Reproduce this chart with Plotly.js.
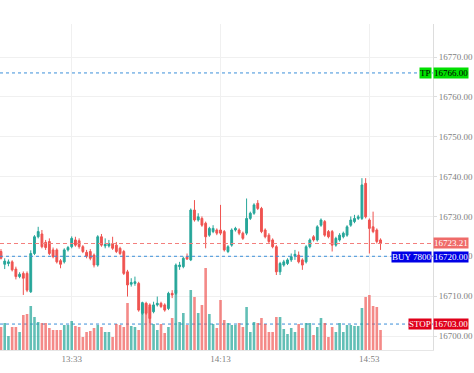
<!DOCTYPE html>
<html><head><meta charset="utf-8">
<script src="https://cdn.plot.ly/plotly-3.0.1.min.js"></script>
<style>html,body{margin:0;padding:0;background:#fff}</style>
</head><body><div id="chart" style="width:474px;height:373px"></div>
<script>
const day = '2024-01-02 ';
const times = ['13:14','13:15','13:16','13:17','13:18','13:19','13:20','13:21','13:22','13:23',
'13:24','13:25','13:26','13:27','13:28','13:29','13:30','13:31','13:32','13:33',
'13:34','13:35','13:36','13:37','13:38','13:39','13:40','13:41','13:42','13:43',
'13:44','13:45','13:46','13:47','13:48','13:49','13:50','13:51','13:52','13:53',
'13:54','13:55','13:56','13:57','13:58','13:59','14:00','14:01','14:02','14:03',
'14:04','14:05','14:06','14:07','14:08','14:09','14:10','14:11','14:12','14:13',
'14:14','14:15','14:16','14:17','14:18','14:19','14:20','14:21','14:22','14:23',
'14:24','14:25','14:26','14:27','14:28','14:29','14:30','14:31','14:32','14:33',
'14:34','14:35','14:36','14:37','14:38','14:39','14:40','14:41','14:42','14:43',
'14:44','14:45','14:46','14:47','14:48','14:49','14:50','14:51','14:52','14:53',
'14:54','14:55','14:56'];
const openP = [16721.2,16718.0,16718.2,16718.6,16716.8,16714.9,16715.7,16715.7,16711.1,16720.7,
16724.9,16725.6,16723.5,16723.7,16721.6,16721.6,16718.9,16718.6,16721.6,16722.4,
16724.1,16723.9,16722.4,16721.0,16721.2,16720.3,16717.8,16724.9,16722.6,16722.6,
16723.2,16722.8,16722.0,16721.2,16716.1,16713.0,16713.2,16713.2,16705.7,16708.2,
16707.8,16706.1,16707.8,16708.2,16707.8,16706.9,16710.7,16710.7,16717.4,16717.4,
16719.9,16719.1,16731.6,16729.1,16729.5,16728.3,16725.3,16726.2,16726.6,16726.6,
16726.2,16721.2,16722.8,16726.6,16726.6,16725.8,16725.8,16729.5,16730.8,16733.3,
16732.0,16726.6,16725.3,16724.1,16722.4,16716.1,16717.8,16718.2,16719.1,16720.1,
16720.3,16719.1,16718.6,16722.4,16724.9,16724.1,16727.8,16728.7,16726.2,16726.2,
16722.8,16724.1,16724.9,16725.3,16727.8,16728.7,16729.5,16729.5,16738.3,16729.1,
16727.4,16726.6,16724.1];
const highP = [16721.8,16719.5,16719.2,16719.0,16717.4,16716.0,16716.2,16716.2,16721.5,16725.3,
16727.4,16726.6,16724.1,16724.5,16722.2,16722.0,16719.3,16722.0,16722.6,16725.0,
16724.9,16724.5,16722.8,16721.6,16721.8,16720.7,16725.3,16725.6,16724.5,16724.1,
16724.9,16723.6,16722.4,16721.6,16716.6,16714.5,16714.9,16713.6,16708.6,16708.6,
16708.2,16708.6,16709.9,16708.6,16708.2,16711.1,16711.5,16718.2,16718.6,16719.9,
16720.7,16732.0,16734.1,16730.8,16730.0,16728.7,16727.4,16727.8,16727.0,16732.9,
16726.6,16722.8,16727.0,16727.4,16727.0,16726.2,16734.5,16731.2,16733.3,16734.1,
16732.4,16727.0,16725.8,16724.5,16722.8,16718.6,16719.1,16719.5,16720.7,16721.6,
16721.2,16719.5,16722.8,16724.5,16725.3,16727.8,16729.5,16729.1,16726.6,16726.6,
16724.9,16725.8,16726.2,16727.8,16730.0,16730.4,16730.4,16739.6,16739.6,16729.5,
16731.2,16727.0,16724.5];
const lowP = [16719.2,16716.8,16717.5,16716.2,16714.2,16714.5,16710.3,16711.0,16710.8,16720.3,
16724.5,16722.0,16721.6,16720.3,16719.5,16718.2,16717.0,16718.2,16721.2,16722.0,
16722.4,16721.9,16720.8,16719.5,16719.0,16717.2,16717.4,16722.4,16722.0,16722.2,
16721.6,16720.8,16720.3,16715.3,16709.9,16712.4,16712.6,16706.1,16705.3,16705.3,
16703.2,16705.7,16707.4,16707.0,16706.1,16706.5,16709.5,16710.3,16716.6,16717.0,
16719.1,16718.8,16728.7,16728.7,16727.4,16722.0,16724.9,16725.8,16725.3,16725.3,
16721.2,16720.8,16722.4,16726.2,16725.3,16724.1,16725.3,16729.1,16730.4,16731.6,
16725.8,16724.5,16723.2,16722.0,16715.3,16715.3,16717.4,16717.8,16718.6,16719.1,
16718.2,16716.6,16718.2,16722.0,16723.7,16723.7,16727.4,16724.9,16724.5,16721.2,
16722.4,16723.7,16724.5,16724.9,16727.4,16728.3,16729.1,16729.1,16729.5,16720.7,
16725.8,16723.2,16721.6];
const closeP = [16719.5,16718.8,16718.6,16716.6,16714.9,16715.5,16714.5,16711.5,16720.7,16724.9,
16726.2,16722.4,16722.2,16720.7,16719.9,16718.6,16718.0,16721.6,16722.2,16724.5,
16722.8,16722.4,16721.2,16720.0,16719.5,16717.8,16724.9,16722.8,16723.0,16723.2,
16722.0,16721.2,16720.7,16715.7,16712.8,16713.4,16713.6,16706.5,16708.2,16705.7,
16704.4,16707.8,16708.2,16707.4,16706.5,16710.7,16710.3,16717.8,16717.8,16719.5,
16719.3,16731.6,16729.1,16729.9,16727.8,16724.9,16727.0,16727.0,16725.8,16725.8,
16721.6,16722.4,16726.6,16727.0,16725.8,16724.5,16729.5,16730.8,16732.9,16732.0,
16726.2,16724.9,16723.7,16722.4,16716.1,16718.2,16718.6,16719.1,16719.9,16720.5,
16718.6,16717.8,16722.4,16724.1,16724.1,16727.4,16729.1,16725.3,16724.9,16722.8,
16724.5,16725.3,16725.8,16727.4,16729.1,16729.5,16729.9,16737.9,16729.9,16727.0,
16726.2,16723.7,16723.21];
const volume = [230,270,140,230,230,180,350,360,440,330,
280,270,270,220,200,200,200,250,250,290,
240,230,130,180,190,220,250,230,180,180,
130,260,250,230,470,240,230,200,480,470,
430,260,200,260,170,230,320,600,280,370,
250,600,530,370,450,820,360,260,220,500,
300,270,250,250,270,230,430,180,280,270,
320,260,180,180,330,330,210,160,220,180,
260,220,270,270,150,230,320,270,130,230,
180,270,180,250,250,240,240,420,530,550,
440,430,200];
const levelPrices = [16766.00, 16723.21, 16720.00, 16703.00];
const levelNames = ['TP', '', 'BUY 7800', 'STOP'];

const x = times.map(t => day + t);
const xRange = [day + '13:13:44', day + '15:10:06'];
const up = '#26a69a', down = '#ef5350';
const volColors = closeP.map((c, i) => c >= openP[i] ? 'rgba(38,166,154,0.72)' : 'rgba(239,83,80,0.68)');

const FONT = 'Liberation Serif';
const lineStyles = [
  {color:'#3b8fd9', dash:'dot'},
  {color:'#f47f7d', dash:'4px,3px'},
  {color:'#3b8fd9', dash:'dot'},
  {color:'#3b8fd9', dash:'dot'}
];
const boxStyles = [
  {bg:'#00e000', fg:'#000000'},
  {bg:'#ef6b69', fg:'#ffffff'},
  {bg:'#0000e6', fg:'#ffffff'},
  {bg:'#e0001a', fg:'#ffffff'}
];

const traces = [
  {type:'bar', x:x, y:volume, yaxis:'y2', marker:{color:volColors, line:{width:0}}, hoverinfo:'skip'},
  {type:'candlestick', x:x, open:openP, high:highP, low:lowP, close:closeP,
   increasing:{line:{color:up, width:1}, fillcolor:up},
   decreasing:{line:{color:down, width:1}, fillcolor:down}, whiskerwidth:0}
];
levelPrices.forEach((p, i) => {
  traces.push({type:'scatter', mode:'lines', x:xRange, y:[p, p], yaxis:'y', cliponaxis:false,
    line:{color:lineStyles[i].color, width:1, dash:lineStyles[i].dash}, hoverinfo:'skip'});
});

const annotations = [];
const yShifts = [0, 1, -1, 0];
levelPrices.forEach((p, i) => {
  annotations.push({xref:'paper', x:1, xanchor:'left', yref:'y', y:p, yanchor:'middle', yshift:yShifts[i],
    text:p.toFixed(2), showarrow:false, bgcolor:boxStyles[i].bg, borderpad:0, borderwidth:1, bordercolor:'rgba(0,0,0,0)',
    font:{family:FONT, size:9, color:boxStyles[i].fg}});
  if (levelNames[i]) annotations.push({xref:'paper', x:1, xanchor:'right', xshift:-1, yref:'y', y:p, yanchor:'middle', yshift:yShifts[i],
    text:levelNames[i], showarrow:false, bgcolor:boxStyles[i].bg, borderpad:0, borderwidth:1, bordercolor:'rgba(0,0,0,0)',
    font:{family:FONT, size:9, color:boxStyles[i].fg}});
});

const layout = {
  width:474, height:373,
  margin:{l:0, r:41, t:24, b:23},
  paper_bgcolor:'#ffffff', plot_bgcolor:'#ffffff',
  showlegend:false, bargap:0.3,
  font:{family:FONT, size:9, color:'#808080'},
  xaxis:{type:'date', range:xRange, rangeslider:{visible:false},
    tickformat:'%H:%M', tick0:day+'13:33', dtick:2400000, showgrid:true, gridcolor:'#f0f0f0',
    showline:true, linecolor:'#e6e6e6', ticks:'', zeroline:false, tickfont:{family:FONT, size:9, color:'#808080'}},
  yaxis:{side:'right', range:[16696.49, 16778.28], dtick:10, tick0:16700, tickformat:'.2f',
    showgrid:true, gridcolor:'#f0f0f0', showline:true, linecolor:'#dddddd', ticks:'outside', ticklen:3,
    tickcolor:'#dddddd', zeroline:false, tickfont:{family:FONT, size:9, color:'#808080'}},
  yaxis2:{overlaying:'y', range:[0, 3260], visible:false, showgrid:false},
  annotations:annotations
};
Plotly.newPlot('chart', traces, layout, {displayModeBar:false, staticPlot:true});
</script></body></html>
